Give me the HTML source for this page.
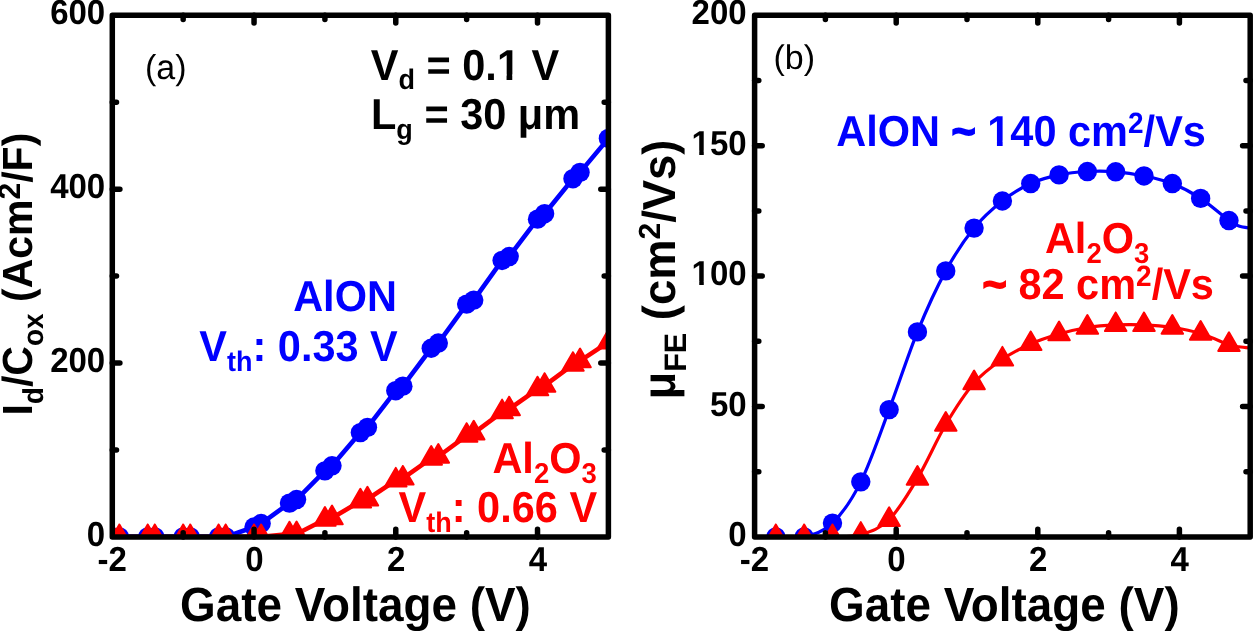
<!DOCTYPE html>
<html><head><meta charset="utf-8"><title>Transfer and mobility curves</title>
<style>html,body{margin:0;padding:0;background:#fff;overflow:hidden}svg{display:block;text-rendering:geometricPrecision}</style>
</head><body>
<svg width="1253" height="631" viewBox="0 0 1253 631">
<defs><clipPath id="ca"><rect x="112.30" y="15.30" width="496.09" height="521.60"/></clipPath>
<clipPath id="cb"><rect x="754.60" y="15.30" width="495.60" height="521.60"/></clipPath></defs>
<rect width="1253" height="631" fill="#fff"/>
<g clip-path="url(#ca)">
<polyline points="112.30,536.90 119.39,536.90 147.74,536.90 154.82,536.90 183.17,536.90 190.26,536.90 218.61,536.90 225.69,536.90 254.04,536.90 261.13,536.90 289.48,534.12 296.56,533.94 324.91,519.51 332.00,518.04 360.35,501.26 367.43,499.26 395.78,480.31 402.87,478.39 431.22,458.49 438.30,456.49 466.65,435.62 473.74,433.19 502.09,412.06 509.17,409.11 537.52,389.11 544.61,385.64 572.96,364.60 580.04,360.95 608.39,342.17" fill="none" stroke="#ff0000" stroke-width="4.6" stroke-linejoin="round"/>
<polyline points="112.30,536.90 119.39,536.90 147.74,536.90 154.82,536.90 183.17,536.90 190.26,536.90 218.61,536.90 225.69,536.90 254.04,526.99 261.13,523.51 289.48,503.08 296.56,499.52 324.91,470.83 332.00,465.79 360.35,432.58 367.43,427.36 395.78,390.68 402.87,386.16 431.22,348.25 438.30,343.04 466.65,304.09 473.74,300.09 502.09,260.45 509.17,256.54 537.52,219.16 544.61,213.68 572.96,178.73 580.04,172.39 608.39,138.48" fill="none" stroke="#0000ff" stroke-width="4.6" stroke-linejoin="round"/>
<g fill="#0000ff">
<circle cx="112.30" cy="536.90" r="9.70"/>
<circle cx="119.39" cy="536.90" r="9.70"/>
<circle cx="147.74" cy="536.90" r="9.70"/>
<circle cx="154.82" cy="536.90" r="9.70"/>
<circle cx="183.17" cy="536.90" r="9.70"/>
<circle cx="190.26" cy="536.90" r="9.70"/>
<circle cx="218.61" cy="536.90" r="9.70"/>
<circle cx="225.69" cy="536.90" r="9.70"/>
<circle cx="254.04" cy="526.99" r="9.70"/>
<circle cx="261.13" cy="523.51" r="9.70"/>
<circle cx="289.48" cy="503.08" r="9.70"/>
<circle cx="296.56" cy="499.52" r="9.70"/>
<circle cx="324.91" cy="470.83" r="9.70"/>
<circle cx="332.00" cy="465.79" r="9.70"/>
<circle cx="360.35" cy="432.58" r="9.70"/>
<circle cx="367.43" cy="427.36" r="9.70"/>
<circle cx="395.78" cy="390.68" r="9.70"/>
<circle cx="402.87" cy="386.16" r="9.70"/>
<circle cx="431.22" cy="348.25" r="9.70"/>
<circle cx="438.30" cy="343.04" r="9.70"/>
<circle cx="466.65" cy="304.09" r="9.70"/>
<circle cx="473.74" cy="300.09" r="9.70"/>
<circle cx="502.09" cy="260.45" r="9.70"/>
<circle cx="509.17" cy="256.54" r="9.70"/>
<circle cx="537.52" cy="219.16" r="9.70"/>
<circle cx="544.61" cy="213.68" r="9.70"/>
<circle cx="572.96" cy="178.73" r="9.70"/>
<circle cx="580.04" cy="172.39" r="9.70"/>
<circle cx="608.39" cy="138.48" r="9.70"/>
</g>
<g fill="#ff0000" stroke="#ff0000" stroke-width="2.0" stroke-linejoin="round">
<polygon points="112.30,524.49 101.55,543.11 123.05,543.11"/>
<polygon points="119.39,524.49 108.64,543.11 130.14,543.11"/>
<polygon points="147.74,524.49 136.99,543.11 158.49,543.11"/>
<polygon points="154.82,524.49 144.07,543.11 165.57,543.11"/>
<polygon points="183.17,524.49 172.42,543.11 193.92,543.11"/>
<polygon points="190.26,524.49 179.51,543.11 201.01,543.11"/>
<polygon points="218.61,524.49 207.86,543.11 229.36,543.11"/>
<polygon points="225.69,524.49 214.94,543.11 236.44,543.11"/>
<polygon points="254.04,524.49 243.29,543.11 264.79,543.11"/>
<polygon points="261.13,524.49 250.38,543.11 271.88,543.11"/>
<polygon points="289.48,521.71 278.73,540.32 300.23,540.32"/>
<polygon points="296.56,521.53 285.81,540.15 307.31,540.15"/>
<polygon points="324.91,507.10 314.16,525.72 335.66,525.72"/>
<polygon points="332.00,505.62 321.25,524.24 342.75,524.24"/>
<polygon points="360.35,488.84 349.60,507.46 371.10,507.46"/>
<polygon points="367.43,486.84 356.68,505.46 378.18,505.46"/>
<polygon points="395.78,467.89 385.03,486.51 406.53,486.51"/>
<polygon points="402.87,465.98 392.12,484.60 413.62,484.60"/>
<polygon points="431.22,446.07 420.47,464.69 441.97,464.69"/>
<polygon points="438.30,444.07 427.55,462.69 449.05,462.69"/>
<polygon points="466.65,423.21 455.90,441.83 477.40,441.83"/>
<polygon points="473.74,420.78 462.99,439.40 484.49,439.40"/>
<polygon points="502.09,399.65 491.34,418.27 512.84,418.27"/>
<polygon points="509.17,396.69 498.42,415.31 519.92,415.31"/>
<polygon points="537.52,376.70 526.77,395.32 548.27,395.32"/>
<polygon points="544.61,373.22 533.86,391.84 555.36,391.84"/>
<polygon points="572.96,352.19 562.21,370.80 583.71,370.80"/>
<polygon points="580.04,348.53 569.29,367.15 590.79,367.15"/>
<polygon points="608.39,329.76 597.64,348.38 619.14,348.38"/>
</g></g>
<g clip-path="url(#cb)">
<path d="M754.60,536.90 C758.14,536.90 767.58,536.90 775.84,536.90 C784.10,536.90 794.72,536.90 804.16,536.90 C813.60,536.90 823.04,537.29 832.48,536.90 C841.92,536.51 851.36,537.42 860.80,534.55 C870.24,531.68 879.68,529.03 889.12,519.69 C898.56,510.34 908.00,494.35 917.44,478.48 C926.88,462.62 936.32,440.40 945.76,424.50 C955.20,408.59 964.64,393.89 974.08,383.03 C983.52,372.16 992.96,365.82 1002.40,359.30 C1011.84,352.78 1021.28,348.12 1030.72,343.91 C1040.16,339.69 1049.60,336.74 1059.04,334.00 C1068.48,331.26 1077.92,329.00 1087.36,327.48 C1096.80,325.96 1106.24,325.30 1115.68,324.87 C1125.12,324.43 1134.56,324.43 1144.00,324.87 C1153.44,325.30 1162.88,326.04 1172.32,327.48 C1181.76,328.91 1191.20,330.61 1200.64,333.48 C1210.08,336.34 1222.59,342.47 1228.96,344.69 C1235.33,346.91 1235.33,346.21 1238.87,346.78 C1242.41,347.34 1247.13,347.78 1250.20,348.08 C1253.27,348.39 1256.10,348.52 1257.28,348.60" fill="none" stroke="#ff0000" stroke-width="3.2"/>
<path d="M754.60,536.90 C758.14,536.90 767.58,536.90 775.84,536.90 C784.10,536.90 794.72,539.20 804.16,536.90 C813.60,534.60 823.04,532.25 832.48,523.08 C841.92,513.91 851.36,500.78 860.80,481.87 C870.24,462.96 879.68,434.62 889.12,409.63 C898.56,384.64 908.00,355.04 917.44,331.91 C926.88,308.79 936.32,288.18 945.76,270.88 C955.20,253.58 964.64,239.76 974.08,228.11 C983.52,216.46 992.96,208.42 1002.40,200.99 C1011.84,193.56 1021.28,187.86 1030.72,183.52 C1040.16,179.17 1049.60,176.91 1059.04,174.91 C1068.48,172.91 1077.92,172.04 1087.36,171.52 C1096.80,171.00 1106.24,171.04 1115.68,171.78 C1125.12,172.52 1134.56,174.00 1144.00,175.95 C1153.44,177.91 1162.88,179.78 1172.32,183.52 C1181.76,187.25 1191.20,192.21 1200.64,198.38 C1210.08,204.55 1222.59,215.94 1228.96,220.55 C1235.33,225.16 1235.33,224.77 1238.87,226.03 C1242.41,227.29 1247.13,227.68 1250.20,228.11 C1253.27,228.55 1256.10,228.55 1257.28,228.63" fill="none" stroke="#0000ff" stroke-width="3.2"/>
<g fill="#0000ff">
<circle cx="775.84" cy="536.90" r="9.70"/>
<circle cx="804.16" cy="536.90" r="9.70"/>
<circle cx="832.48" cy="523.08" r="9.70"/>
<circle cx="860.80" cy="481.87" r="9.70"/>
<circle cx="889.12" cy="409.63" r="9.70"/>
<circle cx="917.44" cy="331.91" r="9.70"/>
<circle cx="945.76" cy="270.88" r="9.70"/>
<circle cx="974.08" cy="228.11" r="9.70"/>
<circle cx="1002.40" cy="200.99" r="9.70"/>
<circle cx="1030.72" cy="183.52" r="9.70"/>
<circle cx="1059.04" cy="174.91" r="9.70"/>
<circle cx="1087.36" cy="171.52" r="9.70"/>
<circle cx="1115.68" cy="171.78" r="9.70"/>
<circle cx="1144.00" cy="175.95" r="9.70"/>
<circle cx="1172.32" cy="183.52" r="9.70"/>
<circle cx="1200.64" cy="198.38" r="9.70"/>
<circle cx="1228.96" cy="220.55" r="9.70"/>
</g>
<g fill="#ff0000" stroke="#ff0000" stroke-width="2.0" stroke-linejoin="round">
<polygon points="775.84,524.49 765.09,543.11 786.59,543.11"/>
<polygon points="804.16,524.49 793.41,543.11 814.91,543.11"/>
<polygon points="832.48,524.49 821.73,543.11 843.23,543.11"/>
<polygon points="860.80,522.14 850.05,540.76 871.55,540.76"/>
<polygon points="889.12,507.27 878.37,525.89 899.87,525.89"/>
<polygon points="917.44,466.07 906.69,484.69 928.19,484.69"/>
<polygon points="945.76,412.08 935.01,430.70 956.51,430.70"/>
<polygon points="974.08,370.61 963.33,389.23 984.83,389.23"/>
<polygon points="1002.40,346.88 991.65,365.50 1013.15,365.50"/>
<polygon points="1030.72,331.49 1019.97,350.11 1041.47,350.11"/>
<polygon points="1059.04,321.58 1048.29,340.20 1069.79,340.20"/>
<polygon points="1087.36,315.06 1076.61,333.68 1098.11,333.68"/>
<polygon points="1115.68,312.46 1104.93,331.08 1126.43,331.08"/>
<polygon points="1144.00,312.46 1133.25,331.08 1154.75,331.08"/>
<polygon points="1172.32,315.06 1161.57,333.68 1183.07,333.68"/>
<polygon points="1200.64,321.06 1189.89,339.68 1211.39,339.68"/>
<polygon points="1228.96,332.28 1218.21,350.90 1239.71,350.90"/>
</g></g>
<rect x="112.30" y="15.30" width="496.09" height="521.60" fill="none" stroke="#000" stroke-width="5.50" stroke-linejoin="round"/>
<path d="M183.17,536.90L183.17,532.70 M183.17,15.30L183.17,19.50 M254.04,536.90L254.04,529.30 M254.04,15.30L254.04,22.90 M324.91,536.90L324.91,532.70 M324.91,15.30L324.91,19.50 M395.78,536.90L395.78,529.30 M395.78,15.30L395.78,22.90 M466.65,536.90L466.65,532.70 M466.65,15.30L466.65,19.50 M537.52,536.90L537.52,529.30 M537.52,15.30L537.52,22.90 M112.30,363.03L119.90,363.03 M608.39,363.03L600.79,363.03 M112.30,189.17L119.90,189.17 M608.39,189.17L600.79,189.17 M112.30,449.97L116.50,449.97 M608.39,449.97L604.19,449.97 M112.30,276.10L116.50,276.10 M608.39,276.10L604.19,276.10 M112.30,102.23L116.50,102.23 M608.39,102.23L604.19,102.23" stroke="#000" stroke-width="5.5" stroke-linecap="round" fill="none"/>
<rect x="754.60" y="15.30" width="495.60" height="521.60" fill="none" stroke="#000" stroke-width="5.50" stroke-linejoin="round"/>
<path d="M825.40,536.90L825.40,532.70 M825.40,15.30L825.40,19.50 M896.20,536.90L896.20,529.30 M896.20,15.30L896.20,22.90 M967.00,536.90L967.00,532.70 M967.00,15.30L967.00,19.50 M1037.80,536.90L1037.80,529.30 M1037.80,15.30L1037.80,22.90 M1108.60,536.90L1108.60,532.70 M1108.60,15.30L1108.60,19.50 M1179.40,536.90L1179.40,529.30 M1179.40,15.30L1179.40,22.90 M754.60,406.50L762.20,406.50 M1250.20,406.50L1242.60,406.50 M754.60,276.10L762.20,276.10 M1250.20,276.10L1242.60,276.10 M754.60,145.70L762.20,145.70 M1250.20,145.70L1242.60,145.70 M754.60,471.70L758.80,471.70 M1250.20,471.70L1246.00,471.70 M754.60,341.30L758.80,341.30 M1250.20,341.30L1246.00,341.30 M754.60,210.90L758.80,210.90 M1250.20,210.90L1246.00,210.90 M754.60,80.50L758.80,80.50 M1250.20,80.50L1246.00,80.50" stroke="#000" stroke-width="5.5" stroke-linecap="round" fill="none"/>
<g font-family="Liberation Sans, sans-serif" font-weight="bold">
<text transform="translate(112.10,570.50) scale(1.0000,1.0500)" font-size="33" fill="#000" text-anchor="middle">-2</text>
<text transform="translate(754.40,570.50) scale(1.0000,1.0500)" font-size="33" fill="#000" text-anchor="middle">-2</text>
<text transform="translate(254.34,570.50) scale(1.0000,1.0500)" font-size="33" fill="#000" text-anchor="middle">0</text>
<text transform="translate(896.50,570.50) scale(1.0000,1.0500)" font-size="33" fill="#000" text-anchor="middle">0</text>
<text transform="translate(396.08,570.50) scale(1.0000,1.0500)" font-size="33" fill="#000" text-anchor="middle">2</text>
<text transform="translate(1038.10,570.50) scale(1.0000,1.0500)" font-size="33" fill="#000" text-anchor="middle">2</text>
<text transform="translate(537.82,570.50) scale(1.0000,1.0500)" font-size="33" fill="#000" text-anchor="middle">4</text>
<text transform="translate(1179.70,570.50) scale(1.0000,1.0500)" font-size="33" fill="#000" text-anchor="middle">4</text>
<text transform="translate(105.20,546.10) scale(1.0000,1.0500)" font-size="33" fill="#000" text-anchor="end">0</text>
<text transform="translate(105.20,372.23) scale(1.0000,1.0500)" font-size="33" fill="#000" text-anchor="end">200</text>
<text transform="translate(105.20,198.37) scale(1.0000,1.0500)" font-size="33" fill="#000" text-anchor="end">400</text>
<text transform="translate(105.20,23.50) scale(1.0000,1.0500)" font-size="33" fill="#000" text-anchor="end">600</text>
<text transform="translate(746.60,546.10) scale(1.0000,1.0500)" font-size="33" fill="#000" text-anchor="end">0</text>
<text transform="translate(746.60,415.70) scale(1.0000,1.0500)" font-size="33" fill="#000" text-anchor="end">50</text>
<text transform="translate(746.60,285.30) scale(1.0000,1.0500)" font-size="33" fill="#000" text-anchor="end">100</text>
<text transform="translate(746.60,154.90) scale(1.0000,1.0500)" font-size="33" fill="#000" text-anchor="end">150</text>
<text transform="translate(746.60,23.50) scale(1.0000,1.0500)" font-size="33" fill="#000" text-anchor="end">200</text>
<text transform="translate(180.10,621.00) scale(1.0000,1.0500)" font-size="45.85" fill="#000">Gate Voltage (V)</text>
<text transform="translate(829.00,621.00) scale(1.0000,1.0500)" font-size="45.85" fill="#000">Gate Voltage (V)</text>
<text transform="translate(32.10,415.60) rotate(-90) scale(1.0000,1.0280)" font-size="41" fill="#000">I<tspan font-size="28" dy="10.3">d</tspan><tspan dy="-10.3">/C</tspan><tspan font-size="28" dy="10.3">ox</tspan><tspan dy="-10.3"> (Acm</tspan><tspan font-size="30" dy="-11.8">2</tspan><tspan dy="11.8">/F)</tspan></text>
<text transform="translate(674.80,399.60) rotate(-90) scale(1.0000,1.0200)" font-size="45.4" fill="#000">μ<tspan font-size="30.5" dy="11.1">FE</tspan><tspan dy="-11.1"> (cm</tspan><tspan font-size="30" dy="-14.4">2</tspan><tspan dy="14.4">/Vs)</tspan></text>
<text transform="translate(145.00,78.60) scale(1.0000,1.0200)" font-size="34" fill="#000" font-weight="normal">(a)</text>
<text transform="translate(773.40,69.20)" font-size="34" fill="#000" font-weight="normal">(b)</text>
<text transform="translate(370.80,79.70) scale(1.0000,1.0450)" font-size="41.5" fill="#000">V<tspan font-size="27" dy="8.9">d</tspan><tspan dy="-8.9"> = 0.1 V</tspan></text>
<text transform="translate(371.00,129.10) scale(1.0000,1.0450)" font-size="41.5" fill="#000">L<tspan font-size="27" dy="9.6">g</tspan><tspan dy="-9.6"> = 30 μm</tspan></text>
<text transform="translate(396.90,311.40) scale(1.0000,1.0450)" font-size="41.5" fill="#0000ff" text-anchor="end">AlON</text>
<text transform="translate(199.30,360.70) scale(1.0000,1.0450)" font-size="41.5" fill="#0000ff">V<tspan font-size="27" dy="9.86">th</tspan><tspan dy="-9.86">: 0.33 V</tspan></text>
<text transform="translate(492.40,472.60) scale(1.0000,1.0450)" font-size="41.5" fill="#ff0000">Al<tspan font-size="27.5" dy="9.76">2</tspan><tspan dy="-9.76">O</tspan><tspan font-size="27.5" dy="9.76">3</tspan></text>
<text transform="translate(398.60,521.70) scale(1.0000,1.0450)" font-size="41.5" fill="#ff0000">V<tspan font-size="27" dy="9.95">th</tspan><tspan dy="-9.95">: 0.66 V</tspan></text>
<text transform="translate(836.20,145.90) scale(1.0000,1.0450)" font-size="41.5" fill="#0000ff">AlON <tspan stroke="#0000ff" stroke-width="1.6">~</tspan> 140 cm<tspan font-size="28" dy="-11.9">2</tspan><tspan dy="11.9">/Vs</tspan></text>
<text transform="translate(1044.90,252.60) scale(1.0000,1.0450)" font-size="41.5" fill="#ff0000">Al<tspan font-size="27.5" dy="9.47">2</tspan><tspan dy="-9.47">O</tspan><tspan font-size="27.5" dy="9.47">3</tspan></text>
<text transform="translate(982.60,298.70) scale(1.0000,1.0450)" font-size="41.5" fill="#ff0000"><tspan stroke="#ff0000" stroke-width="1.6">~</tspan> 82 cm<tspan font-size="28" dy="-11.9">2</tspan><tspan dy="11.9">/Vs</tspan></text>
</g>
<rect x="692.62" y="281.03" width="6.62" height="5.53" fill="#fff"/>
<rect x="703.77" y="281.03" width="6.20" height="5.53" fill="#fff"/>
<rect x="692.62" y="150.63" width="6.62" height="5.53" fill="#fff"/>
<rect x="703.77" y="150.63" width="6.20" height="5.53" fill="#fff"/>
<rect x="498.49" y="74.54" width="8.07" height="6.41" fill="#fff"/>
<rect x="512.26" y="74.54" width="7.55" height="6.41" fill="#fff"/>
<rect x="988.86" y="140.74" width="8.07" height="6.41" fill="#fff"/>
<rect x="1002.63" y="140.74" width="7.55" height="6.41" fill="#fff"/>
</svg>
</body></html>
